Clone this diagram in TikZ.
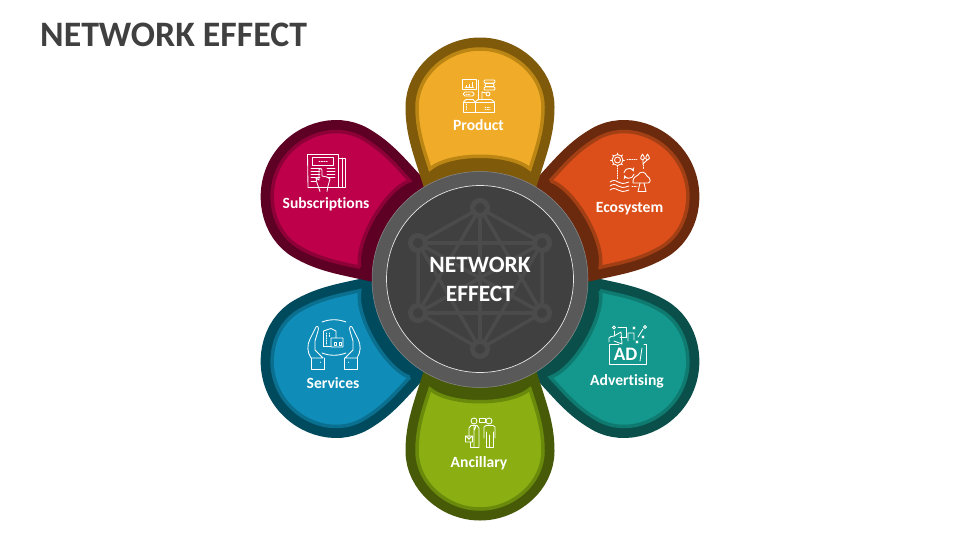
\documentclass[tikz,border=0pt]{standalone}
\usepackage{fontspec}
\setmainfont[Ligatures=NoCommon]{Carlito}
\usetikzlibrary{positioning}

\definecolor{ringgray}{HTML}{595959}
\definecolor{coregray}{HTML}{404040}
\definecolor{markgray}{HTML}{4B4B4B}
\definecolor{blueD}{HTML}{004A5E}
\definecolor{blueM}{HTML}{0B6F8F}
\definecolor{blueF}{HTML}{0F8DB8}
\definecolor{tealD}{HTML}{0A4F4A}
\definecolor{tealM}{HTML}{0E7A70}
\definecolor{tealF}{HTML}{14978C}
\definecolor{redD}{HTML}{5E0024}
\definecolor{redM}{HTML}{8E0038}
\definecolor{redF}{HTML}{BE004A}
\definecolor{rustD}{HTML}{6B2A0D}
\definecolor{rustM}{HTML}{A33F15}
\definecolor{rustF}{HTML}{DC4F1A}
\definecolor{goldD}{HTML}{7F5A0A}
\definecolor{goldM}{HTML}{BC8615}
\definecolor{goldF}{HTML}{F0AC28}
\definecolor{limeD}{HTML}{475A08}
\definecolor{limeM}{HTML}{6A8A0C}
\definecolor{limeF}{HTML}{8BAF12}

\tikzset{
  headline/.style={font=\bfseries\fontsize{35.8}{40}\selectfont, text=coregray, inner sep=0pt},
  petallabel/.style={font=\bfseries\fontsize{15.6}{18}\selectfont, text=white, inner sep=0pt},
  corelabel/.style={font=\bfseries\fontsize{23.4}{28}\selectfont, text=white, inner sep=0pt},
  iconline/.style={draw=white, line width=0.85pt, line join=round, line cap=round},
  icondots/.style={iconline, dash pattern=on 1pt off 1.4pt},
  markline/.style={draw=markgray, line width=3.5pt},
  markdot/.style={circle, draw=markgray, line width=5pt, minimum size=15pt, inner sep=0pt}
}

% one petal, drawn upright around (0,0) and then turned
% #1 angle, #2 dark, #3 mid, #4 fill
\newcommand{\petal}[4]{
  \begin{scope}[shift={(480,279)}, rotate=#1, shift={(0,-4)}]
    \path[draw=#2, fill=#2, line width=23pt, line join=round]
      (0,-60) -- (-40,-75) -- (-50,-106) .. controls (-57,-128) and (-63,-145) .. (-63,-168)
      .. controls (-63,-200) and (-33,-226) .. (0,-226)
      .. controls (33,-226) and (63,-200) .. (63,-168)
      .. controls (63,-145) and (57,-128) .. (50,-106) -- (40,-75) -- cycle;
    \path[draw=#3, fill=#4, line width=3.5pt, line join=miter]
      (-50,-106) .. controls (-57,-128) and (-63,-145) .. (-63,-168)
      .. controls (-63,-200) and (-33,-226) .. (0,-226)
      .. controls (33,-226) and (63,-200) .. (63,-168)
      .. controls (63,-145) and (57,-128) .. (50,-106)
      .. controls (30,-123) and (-30,-123) .. cycle;
  \end{scope}
}

\begin{document}
\begin{tikzpicture}[x=1pt, y=-1pt]
  \useasboundingbox (0,0) rectangle (960,540);
  \fill[white] (0,0) rectangle (960,540);

  \node[headline, anchor=west] (title) at (40,34.5) {NETWORK EFFECT};

  % petals
  \petal{120}{blueD}{blueM}{blueF}
  \petal{-120}{tealD}{tealM}{tealF}
  \petal{60}{redD}{redM}{redF}
  \petal{-60}{rustD}{rustM}{rustF}
  \petal{0}{goldD}{goldM}{goldF}
  \petal{180}{limeD}{limeM}{limeF}

  % middle disc
  \draw[fill=ringgray, draw=ringgray!70!white, line width=0.5pt] (480,279.5) circle (108);
  \draw[fill=coregray, draw=white!80!gray, line width=0.7pt] (480,279) circle (93.5);

  % faint network mark
  \coordinate (mt) at (480,208);
  \coordinate (mur) at (542,243);
  \coordinate (mlr) at (542,313);
  \coordinate (mb) at (480,349);
  \coordinate (mll) at (418,313);
  \coordinate (mul) at (418,243);
  \coordinate (mc) at (480,278);
  \draw[markline] (mt) -- (mur) -- (mlr) -- (mb) -- (mll) -- (mul) -- cycle;
  \draw[markline] (mt) -- (mb) (mul) -- (mur) (mll) -- (mlr);
  \draw[markline] (mt) -- (mll) (mt) -- (mlr) (mb) -- (mul) (mb) -- (mur);
  \draw[markline] (mul) -- (mlr) (mur) -- (mll);
  \foreach \m in {mt, mur, mlr, mb, mll, mul} {
    \node[markdot, fill=coregray] at (\m) {};
  }

  \node[corelabel] (coretop) at (480,265) {NETWORK};
  \node[corelabel] (corebot) at (480,294) {EFFECT};

  \node[petallabel] (product) at (478.5,125.3) {Product};
  \node[petallabel] (ecosystem) at (629.5,208.8) {Ecosystem};
  \node[petallabel] (advertising) at (627,381.8) {Advertising};
  \node[petallabel] (ancillary) at (479,462.8) {Ancillary};
  \node[petallabel] (services) at (333,383.3) {Services};
  \node[petallabel] (subscriptions) at (326,204.3) {Subscriptions};

  % product icon
  \draw[iconline] (462.5,79.5) rectangle (476,89.5);
  \draw[iconline] (465,87.5) -- (473.5,87.5);
  \draw[iconline, line width=1.4pt, line cap=butt] (466.5,87.5) -- (466.5,85.5) (469.5,87.5) -- (469.5,84) (472.5,87.5) -- (472.5,82.5);
  \draw[iconline, rounded corners=1pt] (484,80) rectangle (495,83) (485,83.5) rectangle (494,86.5) (484,87) rectangle (495,90);
  \draw[iconline, rounded corners=1.5pt] (463.5,92) rectangle (474,96);
  \draw[icondots] (466,94) -- (470,94);
  \draw[iconline] (478.5,80) -- (478.5,100) (482,100) -- (482,92 ) -- (486,93);
  \draw[iconline] (488,94) circle (2);
  \draw[iconline] (463.5,102) rectangle (475,112) (475,102) rectangle (494.5,112);
  \draw[iconline] (463.5,102) -- (466,99.5) -- (473,99.5) -- (475,102) -- (478,99.5) -- (491,99.5) -- (494.5,102);
  \draw[icondots] (466,104) -- (466,110) (485,107.5) -- (490,107.5) (485,109.5) -- (490,109.5);

  % ecosystem icon
  \draw[iconline] (617.5,160) circle (3) (617.5,160) circle (5.5);
  \foreach \a in {0,45,...,315} {
    \draw[iconline, shift={(617.5,160)}] (\a:5.5) -- (\a:7);
  }
  \draw[icondots] (627,159.5) -- (637,159.5) (617.5,168) -- (617.5,179) (632,186) -- (637,186) (643,165) -- (643,169);
  \draw[iconline] (642.5,154) .. controls (640,158) and (640,160) .. (642.5,160) .. controls (645,160) and (645,158) .. (642.5,154);
  \draw[iconline] (647.5,154) .. controls (645,158) and (645,160) .. (647.5,160) .. controls (650,160) and (650,158) .. (647.5,154);
  \draw[iconline] (643,160) -- (643,165) (647,160) -- (643,164);
  \draw[iconline, ->, >=stealth] (624,172.5) arc (190:340:5);
  \draw[iconline, ->, >=stealth] (634,174.2) arc (10:160:5);
  \draw[iconline] (633,183) .. controls (632,177) and (637,176) .. (638,175) .. controls (640,171) and (645,171) .. (647,176) .. controls (651,178) and (651,183) .. (648,183) -- cycle;
  \draw[iconline] (640,183) -- (638,191.5) -- (646,191.5) -- (644,183);
  \foreach \wy in {182,186,190} {
    \draw[iconline] (610,\wy) .. controls (613,\wy-2) and (615,\wy-2) .. (618,\wy) .. controls (621,\wy+2) and (623,\wy+2) .. (629,\wy);
  }

  % subscriptions icon
  \draw[iconline] (338.5,187.5) -- (308,187.5) -- (307.5,154.5) -- (338.5,154.5) -- (338.5,187.5);
  \draw[iconline] (338.5,158) -- (345.5,158) -- (345.5,187.5) -- (338.5,187.5) (342,158) -- (342,187.5);
  \draw[iconline] (312.5,157.5) rectangle (333.5,165);
  \draw[icondots] (319,161) -- (328,161);
  \foreach \ly in {168,171,174,177} {
    \draw[iconline] (311,\ly) -- (320,\ly);
    \draw[iconline] (327,\ly) -- (335,\ly);
  }
  \draw[iconline] (311,181) -- (316,181);
  \draw[iconline] (320,191.5) -- (317,183) -- (316,178) -- (319,180) -- (319,169.5) .. controls (320,168) and (322,168) .. (322,170) -- (322,176) -- (327,177) -- (330,179) -- (328,186) -- (327,191.5);

  % services icon
  \draw[iconline] (322,322) .. controls (330,319) and (338,319) .. (346,322);
  \draw[iconline] (322,353) .. controls (330,356) and (338,356) .. (346,353);
  \draw[iconline] (323.5,346.5) -- (323.5,331) -- (331,328.5) -- (336,331) -- (336,338) (331,338) rectangle (343,347);
  \draw[iconline] (323.5,346.5) -- (331,346.5);
  \draw[icondots] (326.5,333) -- (326.5,345) (329.5,333) -- (329.5,337);
  \draw[iconline] (334,342) rectangle (336.5,345) (339,342) rectangle (341.5,345);
  \draw[iconline] (311,358) .. controls (307,352) and (307,345) .. (310,339) -- (316,327) .. controls (318,325) and (319,328) .. (318,331) -- (315,341) -- (315,350) -- (323,358) (311,358) -- (323,358);
  \draw[iconline] (357,358) .. controls (361,352) and (361,345) .. (358,339) -- (352,327) .. controls (350,325) and (349,328) .. (350,331) -- (353,341) -- (353,350) -- (345,358) (345,358) -- (357,358);
  \draw[iconline] (311,358) -- (311,369) -- (324,369) -- (324,358) (344,358) -- (344,369) -- (357,369) -- (357,358);
  \draw[iconline] (320,362) -- (320,362.5) (348,362) -- (348,362.5);

  % advertising icon
  \draw[iconline] (619,344.5) -- (609,344.5) -- (609,364.5) -- (646.5,364.5) -- (646.5,344.5) -- (644,344.5);
  \node[font=\bfseries\fontsize{19}{19}\selectfont, text=white, inner sep=0pt] (adword) at (625.5,354.5) {AD};
  \draw[iconline] (642,348) -- (640,361);
  \draw[iconline] (609,342) -- (609,338) .. controls (609,337) and (612,336) .. (614,336) -- (621,332) -- (622,344) -- (614,341);
  \draw[iconline] (614,331) -- (614,336) (618,327.5) -- (626,327.5) -- (626,337) -- (620,337);
  \draw[iconline] (628,341) -- (628,333) -- (634,333) -- (634,340) (638,337) -- (643,329);
  \draw[iconline] (614,327.5) circle (1.5) (645,327) circle (1.5);
  \draw[iconline] (633,327) -- (635,329) (635,327) -- (633,329) (642,336) -- (644,338) (644,336) -- (642,338) (636,341) -- (638,343) (638,341) -- (636,343);

  % ancillary icon
  \draw[iconline] (474,421) circle (3) (489,421) circle (3);
  \draw[iconline] (469,440) -- (469,428) -- (471,425.5) -- (477,425.5) -- (479,428) -- (479,447.5) -- (470.5,447.5) -- (470.5,442);
  \draw[iconline] (474,425.5) -- (474,447.5) (476,425.5) -- (474.5,430);
  \draw[iconline] (484,438) -- (484,427) -- (486,425.5) -- (493,425.5) -- (495,427) -- (495,438);
  \draw[iconline] (486,432) -- (486,447.5) -- (493,447.5) -- (493,432) (489.5,435) -- (489.5,447.5);
  \draw[iconline] (465.5,436) rectangle (472.5,442) (465.5,436) -- (469,439) -- (472.5,436);
  \draw[iconline] (479.5,418.5) rectangle (485,422.5);
\end{tikzpicture}
\end{document}
